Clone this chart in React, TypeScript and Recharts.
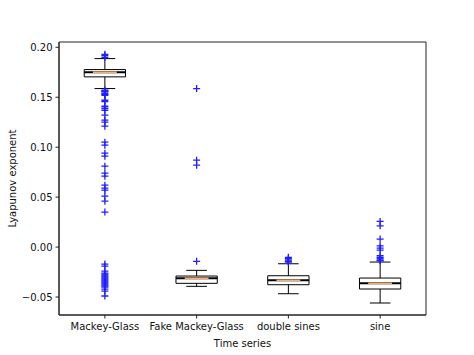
import {
  ReferenceArea,
  ReferenceLine,
  Scatter,
  ScatterChart,
  XAxis,
  YAxis,
} from "recharts";

const categories = ["Mackey-Glass", "Fake Mackey-Glass", "double sines", "sine"];
const positions = [1, 2, 3, 4];

// box stats
const q1 = [0.1704, -0.0363, -0.0377, -0.042];
const median = [0.175, -0.0313, -0.0333, -0.0363];
const q3 = [0.1777, -0.029, -0.0287, -0.031];
const whiskerLow = [0.1587, -0.0393, -0.0467, -0.056];
const whiskerHigh = [0.1887, -0.0233, -0.0167, -0.015];

const mackeyOutliers = [
  0.193, 0.1917, 0.19, 0.157, 0.156, 0.1557, 0.154, 0.153, 0.152, 0.147,
  0.1457, 0.141, 0.139, 0.137, 0.132, 0.127, 0.125, 0.121, 0.105, 0.102,
  0.094, 0.091, 0.081, 0.074, 0.071, 0.062, 0.059, 0.057, 0.051, 0.046, 0.035,
  -0.017, -0.019, -0.024, -0.026, -0.027, -0.028, -0.029, -0.03, -0.031,
  -0.032, -0.033, -0.034, -0.035, -0.036, -0.037, -0.038, -0.039, -0.04,
  -0.042, -0.044, -0.049,
];
const fakeOutliers = [0.1587, 0.087, 0.082, -0.0143];
const doubleSineOutliers = [-0.0103, -0.0117, -0.013, -0.0143, -0.015];
const sineOutliers = [
  0.0257, 0.0213, 0.008, 0.0013, -0.001, -0.003, -0.0087, -0.0103, -0.0117,
  -0.013, -0.0137,
];

const yTicks = [-0.05, 0, 0.05, 0.1, 0.15, 0.2];
const yDomain: [number, number] = [-0.068, 0.2053];

const outlierData = [mackeyOutliers, fakeOutliers, doubleSineOutliers, sineOutliers]
  .flatMap((vals, i) => vals.map((y) => ({ x: positions[i], y })));

const BOX_HALF = 0.225;
const CAP_HALF = 0.1125;

function Plus(props: { cx?: number; cy?: number }) {
  const { cx = 0, cy = 0 } = props;
  return (
    <path
      d={`M${cx - 3.5},${cy}h7M${cx},${cy - 3.5}v7`}
      stroke="#1f1fff"
      strokeWidth={1.3}
      fill="none"
    />
  );
}

const seg = (x1: number, y1: number, x2: number, y2: number) => [
  { x: x1, y: y1 },
  { x: x2, y: y2 },
];

export default function App() {
  const font = { fontSize: 10, fill: "#111", fontFamily: "DejaVu Sans" };
  return (
    <div style={{ width: 474, height: 355, background: "#fff" }}>
      <style>{`body{margin:0}`}</style>
      <ScatterChart
        width={474}
        height={355}
        margin={{ top: 42, right: 48, left: 0, bottom: 0 }}
        style={{ fontFamily: "DejaVu Sans" }}
      >
        <XAxis
          type="number"
          dataKey="x"
          domain={[0.5, 4.5]}
          ticks={positions}
          allowDataOverflow
          tickFormatter={(v: number) => categories[v - 1] ?? ""}
          tick={font}
          tickSize={3.5}
          tickMargin={4.5}
          height={40}
          stroke="#222"
          label={{
            value: "Time series",
            position: "insideBottom",
            offset: 8,
            style: { fontSize: 10, fill: "#111" },
          }}
        />
        <YAxis
          type="number"
          dataKey="y"
          domain={yDomain}
          ticks={yTicks}
          allowDataOverflow
          tickFormatter={(v: number) => v.toFixed(2).replace("-", "\u2212")}
          tick={font}
          tickSize={3.5}
          tickMargin={3}
          width={59}
          stroke="#222"
          label={{
            value: "Lyapunov exponent",
            angle: -90,
            position: "insideLeft",
            offset: 12,
            style: { fontSize: 10, fill: "#111", textAnchor: "middle" },
          }}
        />
        <ReferenceArea
          x1={0.5}
          x2={4.5}
          y1={yDomain[0]}
          y2={yDomain[1]}
          fill="none"
          stroke="#222"
          strokeWidth={1}
        />
        {positions.map((p, i) => (
          <ReferenceArea
            key={`box-${i}`}
            x1={p - BOX_HALF}
            x2={p + BOX_HALF}
            y1={q1[i]}
            y2={q3[i]}
            fill="#fff"
            fillOpacity={1}
            stroke="#000"
            strokeWidth={1}
          />
        ))}
        {positions.map((p, i) => (
          <ReferenceLine key={`wh-${i}`} segment={seg(p, q3[i], p, whiskerHigh[i])} stroke="#000" strokeWidth={1} />
        ))}
        {positions.map((p, i) => (
          <ReferenceLine key={`wl-${i}`} segment={seg(p, q1[i], p, whiskerLow[i])} stroke="#000" strokeWidth={1} />
        ))}
        {positions.map((p, i) => (
          <ReferenceLine key={`ch-${i}`} segment={seg(p - CAP_HALF, whiskerHigh[i], p + CAP_HALF, whiskerHigh[i])} stroke="#000" strokeWidth={1} />
        ))}
        {positions.map((p, i) => (
          <ReferenceLine key={`cl-${i}`} segment={seg(p - CAP_HALF, whiskerLow[i], p + CAP_HALF, whiskerLow[i])} stroke="#000" strokeWidth={1} />
        ))}
        {positions.map((p, i) => (
          <ReferenceLine key={`mb-${i}`} segment={seg(p - BOX_HALF, median[i], p + BOX_HALF, median[i])} stroke="#000" strokeWidth={2} />
        ))}
        {positions.map((p, i) => (
          <ReferenceLine key={`mo-${i}`} segment={seg(p - 0.13, median[i], p + 0.13, median[i])} stroke="#f5ad70" strokeWidth={1.6} />
        ))}
        <Scatter data={outlierData} shape={<Plus />} isAnimationActive={false} />
      </ScatterChart>
    </div>
  );
}
